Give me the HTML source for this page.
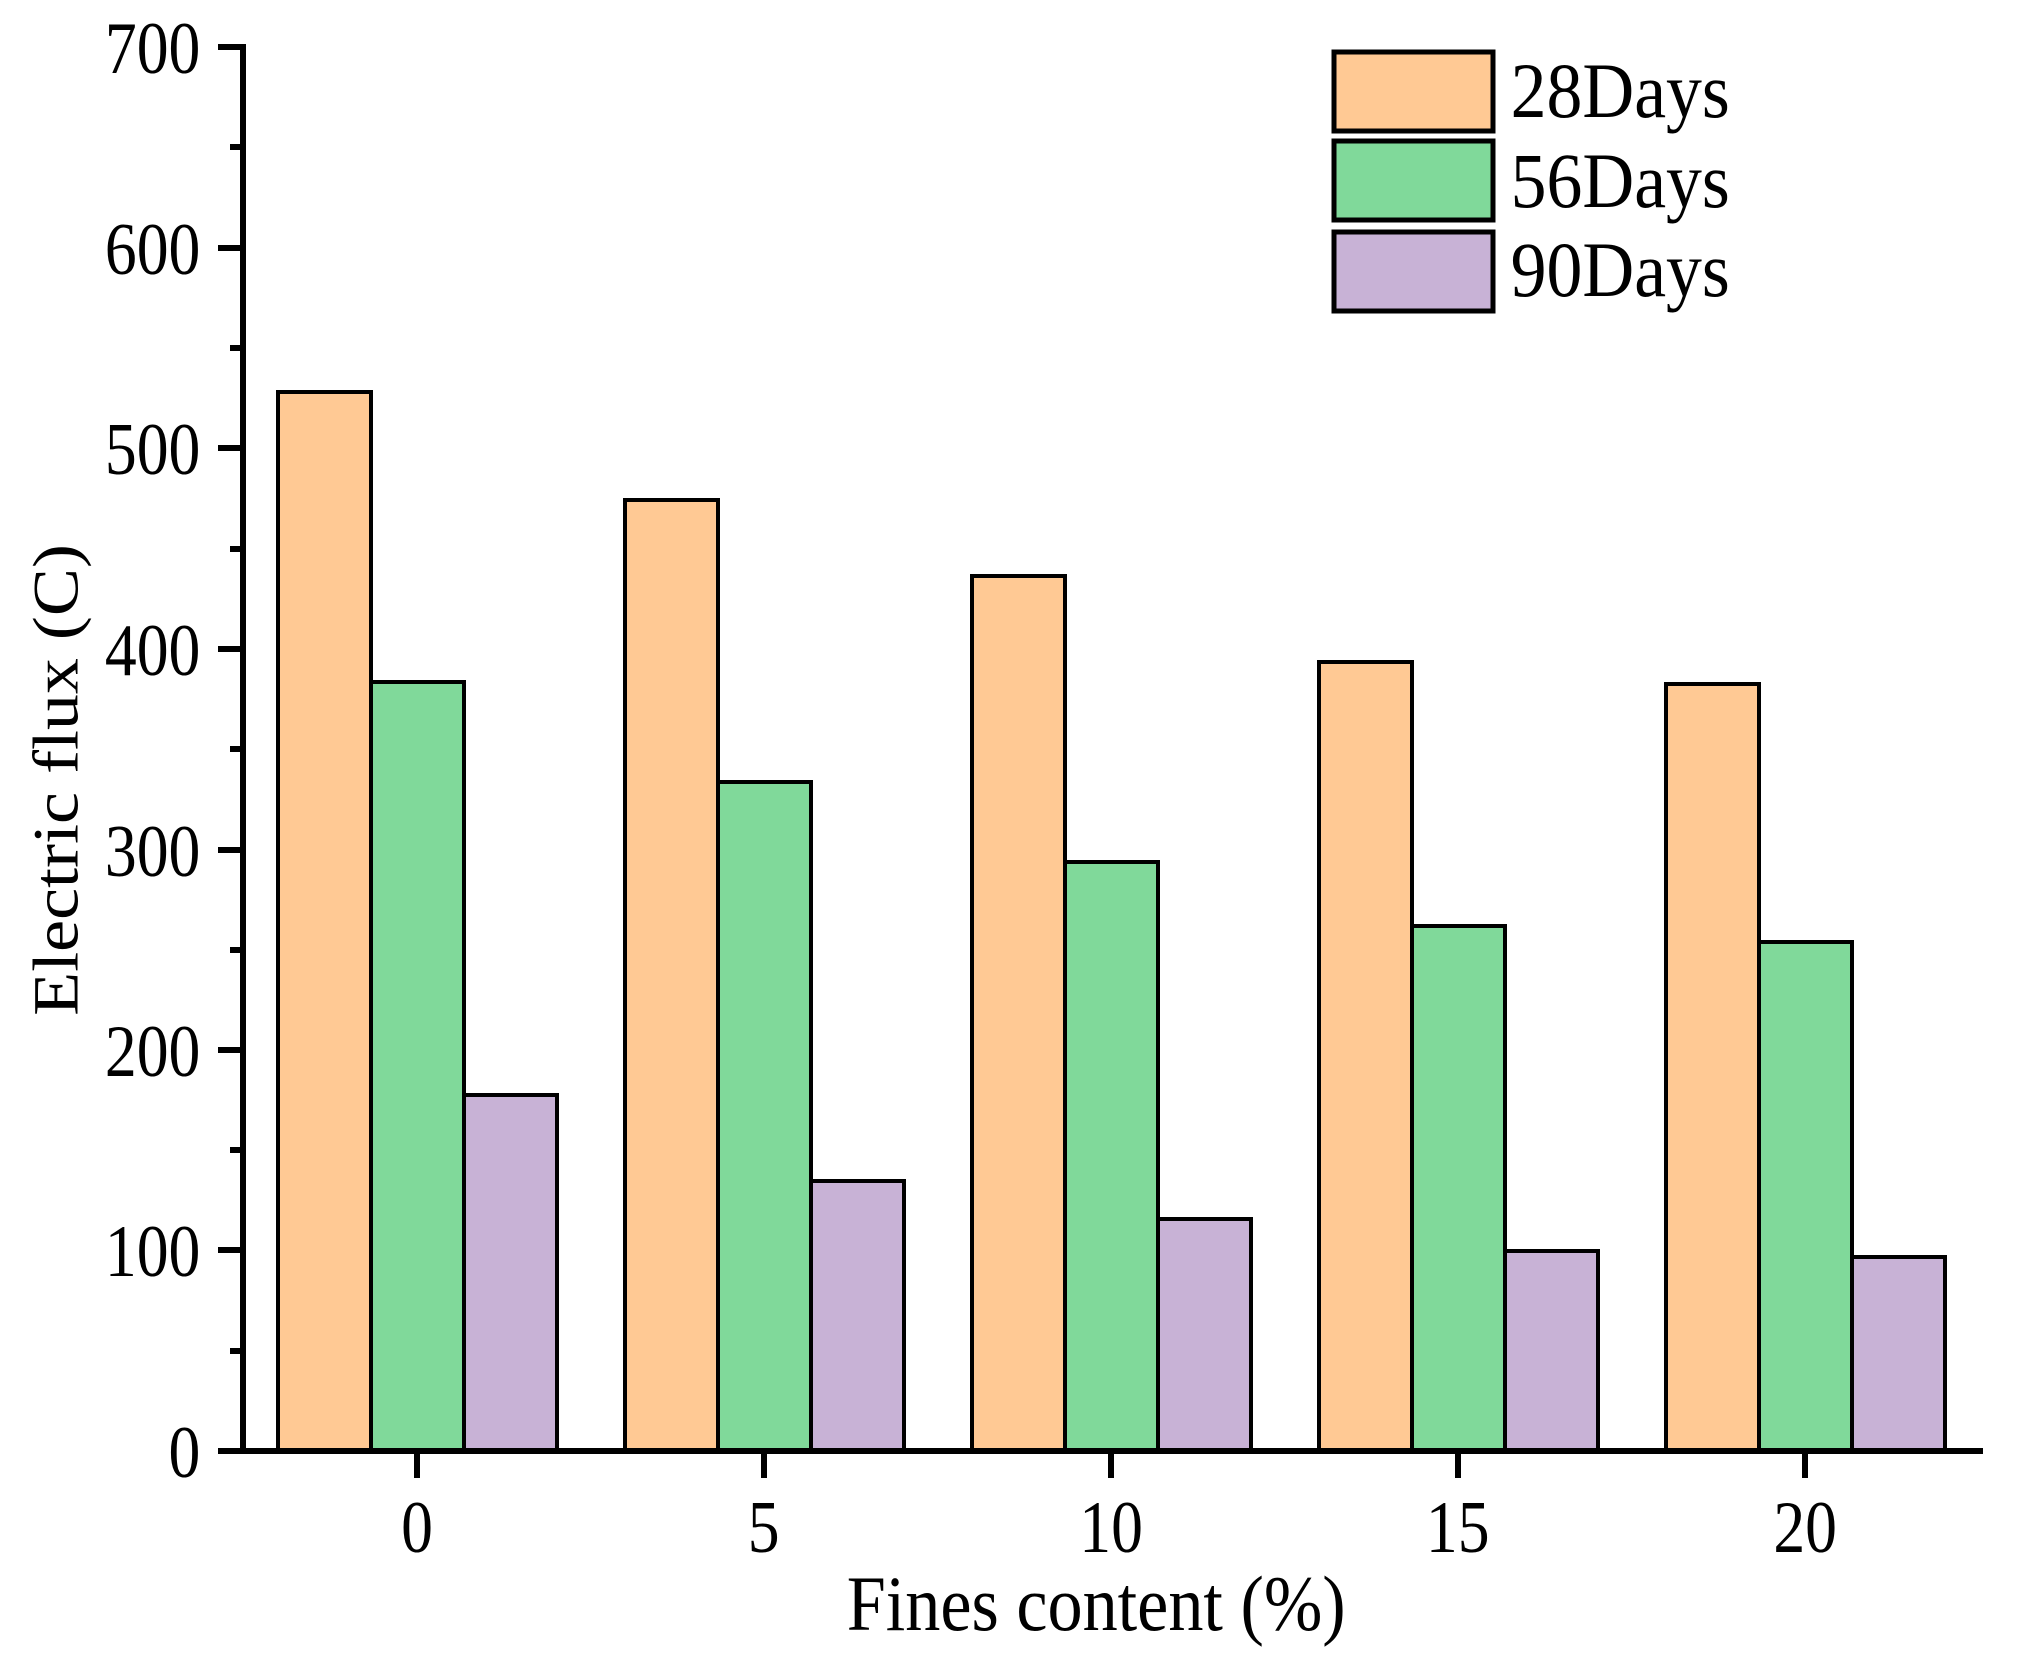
<!DOCTYPE html>
<html><head><meta charset="utf-8"><style>html,body{margin:0;padding:0;background:#fff}</style></head>
<body>
<svg width="2025" height="1659" xmlns="http://www.w3.org/2000/svg" font-family="Liberation Serif, serif">
<rect width="2025" height="1659" fill="#fff"/>
<g stroke="#000" stroke-width="4">
<rect x="278" y="392" width="93" height="1059" fill="#FFC994"/>
<rect x="625" y="500" width="93" height="951" fill="#FFC994"/>
<rect x="972" y="576" width="93" height="875" fill="#FFC994"/>
<rect x="1319" y="662" width="93" height="789" fill="#FFC994"/>
<rect x="1666" y="684" width="93" height="767" fill="#FFC994"/>
<rect x="371" y="682" width="93" height="769" fill="#80D99A"/>
<rect x="718" y="782" width="93" height="669" fill="#80D99A"/>
<rect x="1065" y="862" width="93" height="589" fill="#80D99A"/>
<rect x="1412" y="926" width="93" height="525" fill="#80D99A"/>
<rect x="1759" y="942" width="93" height="509" fill="#80D99A"/>
<rect x="464" y="1095" width="93" height="356" fill="#C8B2D6"/>
<rect x="811" y="1181" width="93" height="270" fill="#C8B2D6"/>
<rect x="1158" y="1219" width="93" height="232" fill="#C8B2D6"/>
<rect x="1505" y="1251" width="93" height="200" fill="#C8B2D6"/>
<rect x="1852" y="1257" width="93" height="194" fill="#C8B2D6"/>
</g>
<g stroke="#000" stroke-width="6" fill="none">
<line x1="243" y1="44" x2="243" y2="1454"/>
<line x1="218" y1="1451" x2="1983" y2="1451"/>
<line x1="218" y1="47" x2="243" y2="47"/>
<line x1="218" y1="248" x2="243" y2="248"/>
<line x1="218" y1="448" x2="243" y2="448"/>
<line x1="218" y1="649" x2="243" y2="649"/>
<line x1="218" y1="850" x2="243" y2="850"/>
<line x1="218" y1="1050" x2="243" y2="1050"/>
<line x1="218" y1="1250" x2="243" y2="1250"/>
<line x1="230" y1="147" x2="243" y2="147"/>
<line x1="230" y1="348" x2="243" y2="348"/>
<line x1="230" y1="549" x2="243" y2="549"/>
<line x1="230" y1="749" x2="243" y2="749"/>
<line x1="230" y1="950" x2="243" y2="950"/>
<line x1="230" y1="1150" x2="243" y2="1150"/>
<line x1="230" y1="1351" x2="243" y2="1351"/>
<line x1="417" y1="1451" x2="417" y2="1478"/>
<line x1="764" y1="1451" x2="764" y2="1478"/>
<line x1="1111" y1="1451" x2="1111" y2="1478"/>
<line x1="1458" y1="1451" x2="1458" y2="1478"/>
<line x1="1805" y1="1451" x2="1805" y2="1478"/>
</g>
<g font-size="74" text-anchor="end" fill="#000" transform="scale(0.86,1)">
<text x="233" y="73">700</text>
<text x="233" y="274">600</text>
<text x="233" y="474">500</text>
<text x="233" y="675">400</text>
<text x="233" y="876">300</text>
<text x="233" y="1076">200</text>
<text x="233" y="1276">100</text>
<text x="233" y="1477">0</text>
</g>
<g font-size="74" text-anchor="middle" fill="#000" transform="scale(0.86,1)">
<text x="485" y="1552">0</text>
<text x="888" y="1552">5</text>
<text x="1292" y="1552">10</text>
<text x="1695" y="1552">15</text>
<text x="2099" y="1552">20</text>
</g>
<g text-anchor="middle" fill="#000" transform="scale(0.9,1)">
<text x="1218" y="1630" font-size="78">Fines content (%)</text>
<text transform="translate(86,780) rotate(-90)" font-size="72">Electric flux (C)</text>
</g>
<g stroke="#000" stroke-width="5">
<rect x="1334" y="52" width="159" height="79" fill="#FFC994"/>
<rect x="1334" y="141" width="159" height="79" fill="#80D99A"/>
<rect x="1334" y="232" width="159" height="79" fill="#C8B2D6"/>
</g>
<g font-size="78" fill="#000" transform="scale(0.92,1)">
<text x="1642" y="117">28Days</text>
<text x="1642" y="207">56Days</text>
<text x="1642" y="296">90Days</text>
</g>
</svg>
</body></html>
